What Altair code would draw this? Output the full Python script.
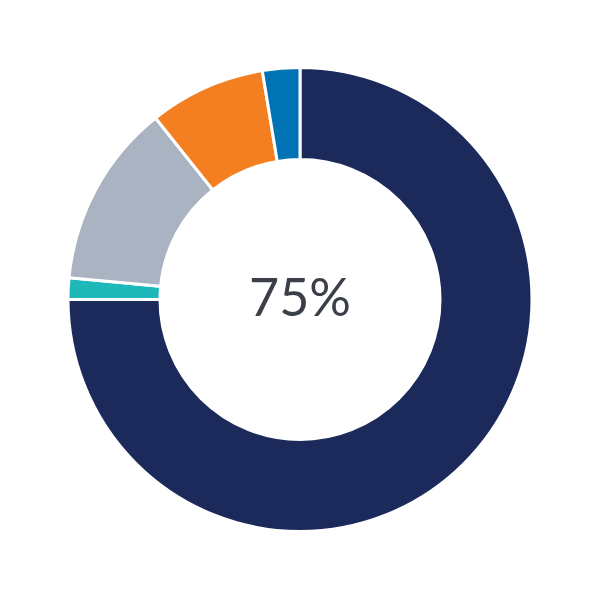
import altair as alt
import pandas as pd

categories = ["A", "B", "C", "D", "E"]
values = [75, 1.5, 12.8, 8.1, 2.6]
colors = ["#1b2a5a", "#1fb8b8", "#a9b3c1", "#f47f20", "#0073b4"]
center_label = "75%"

df = pd.DataFrame({"cat": categories, "val": values, "order": list(range(len(values)))})

arcs = alt.Chart(df).mark_arc(innerRadius=140, outerRadius=232, stroke="white", strokeWidth=3).encode(
    theta=alt.Theta("val:Q", stack=True),
    color=alt.Color("cat:N", scale=alt.Scale(domain=categories, range=colors), legend=None),
    order=alt.Order("order:Q"),
)

text = alt.Chart(pd.DataFrame({"t": [center_label]})).mark_text(
    font="Lato", fontSize=52, color="#3b4048", baseline="middle", align="center"
).encode(text="t:N", x=alt.value(292), y=alt.value(291.5))

chart = alt.layer(arcs, text).properties(
    width=584, height=583, padding=0,
    autosize=alt.AutoSizeParams(type="fit", contains="padding"),
).configure_view(stroke=None)

chart.save("out.html", embed_options={"renderer": "svg", "actions": False})
